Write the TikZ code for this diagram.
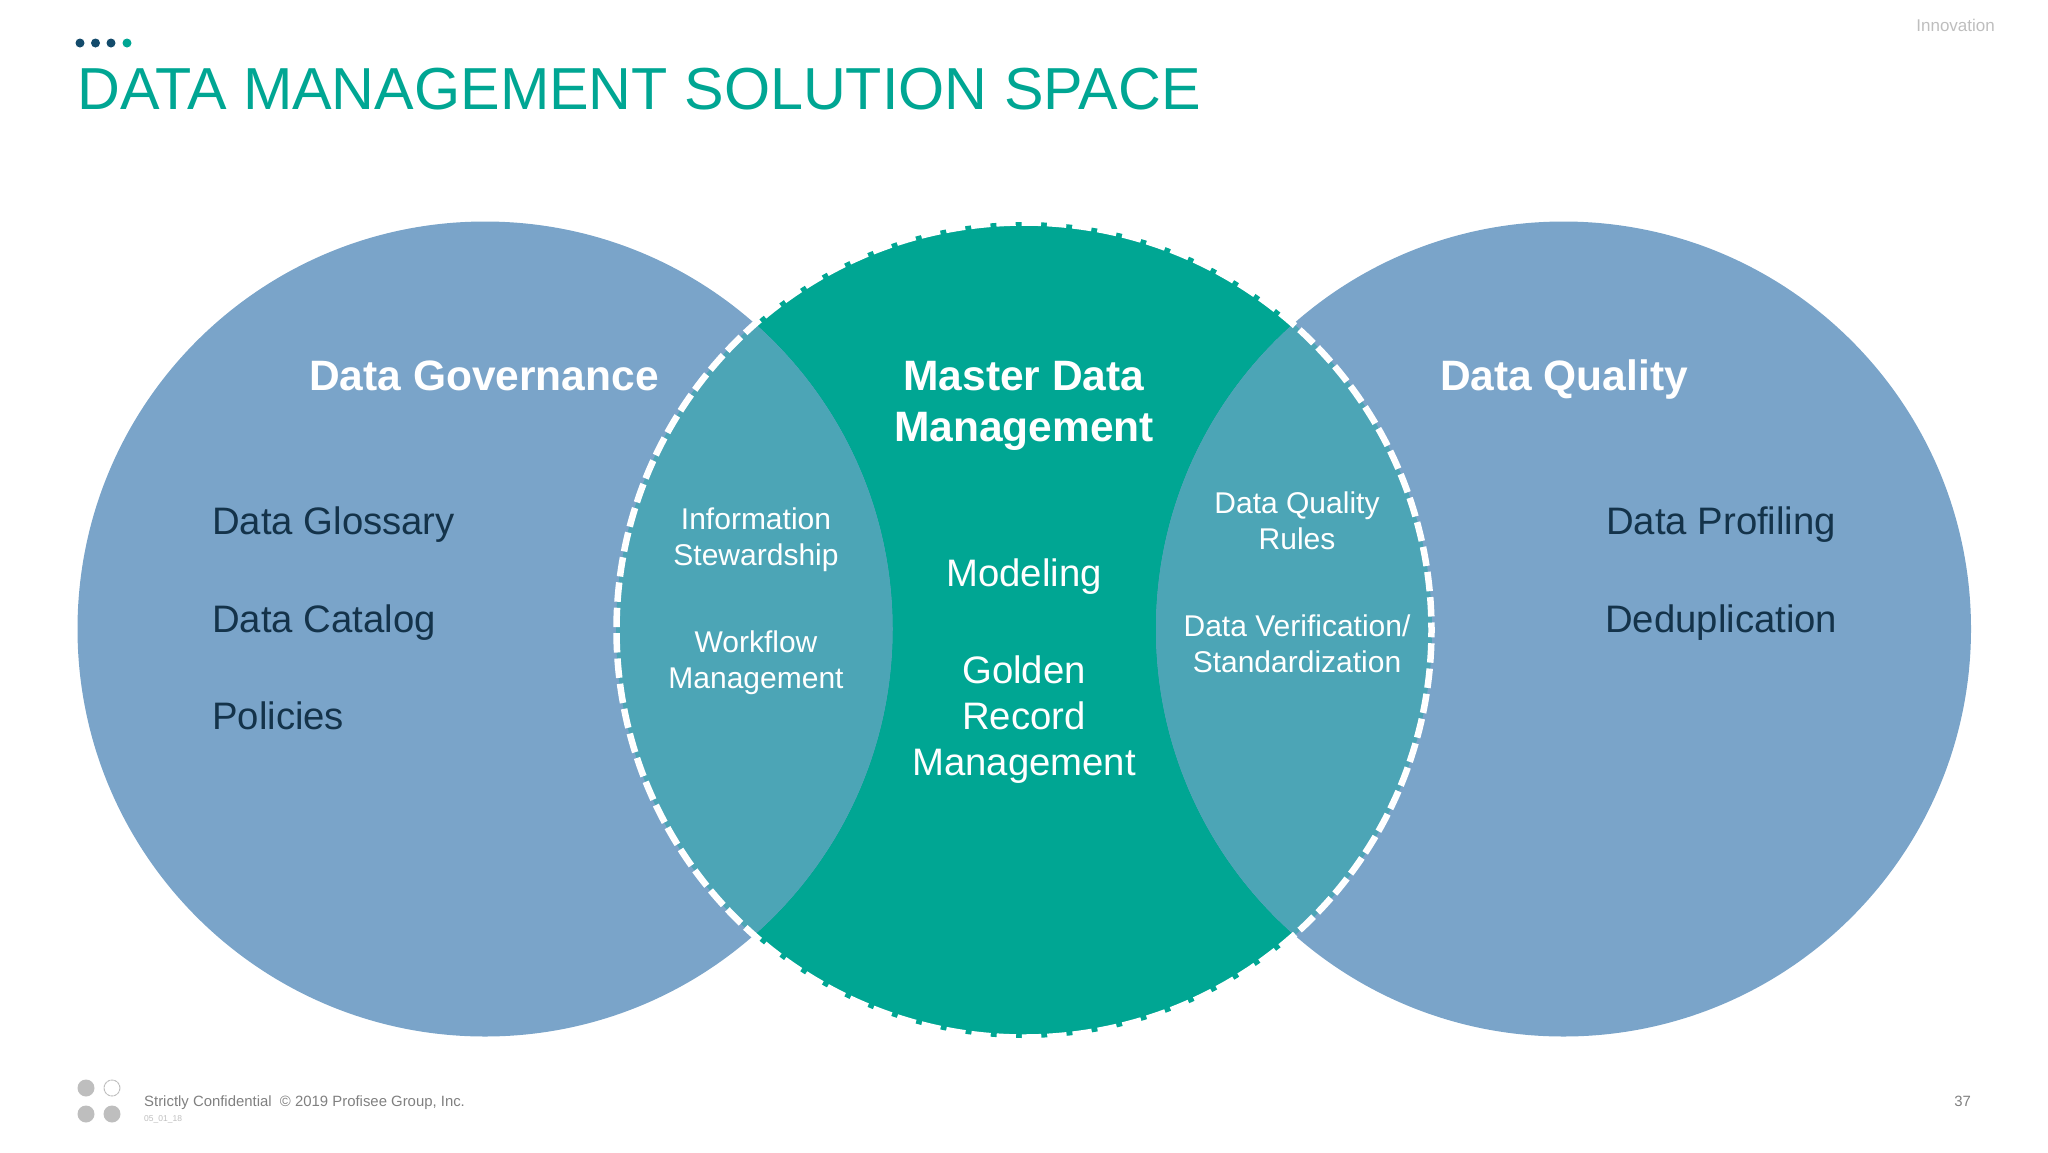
\documentclass[tikz,border=0pt]{standalone}
\usepackage{fontspec}
\usepackage{xcolor}
\setmainfont{Liberation Sans}
\definecolor{teal}{HTML}{00A693}
\definecolor{steel}{HTML}{7AA4C9}
\definecolor{mixed}{HTML}{4CA5B6}
\definecolor{navy}{HTML}{14334A}
\definecolor{dotnavy}{HTML}{134B6B}
\definecolor{footgray}{HTML}{BEBEBE}

\begin{document}
\begin{tikzpicture}[x=1pt, y=-1pt,
    every node/.style={inner sep=0pt},
    bubble/.style={circle, minimum size=815pt},
    heading/.style={align=center, text=white, font=\fontsize{42.5}{51}\selectfont\bfseries},
    topic/.style={anchor=base west, text=navy, font=\fontsize{38.3}{46}\selectfont},
    core/.style={align=center, text=white, font=\fontsize{38.3}{46}\selectfont},
    shared/.style={align=center, text=white, font=\fontsize{30}{36}\selectfont},
    marker/.style={circle, minimum size=9pt},
    logodot/.style={circle, minimum size=17pt, fill=footgray}]
    \useasboundingbox (0,0) rectangle (2048,1152);

    % circles
    \node[bubble, fill=teal, minimum size=816pt] (M) at (1024,630) {};
    \node[bubble, fill=steel] (L) at (485,629) {};
    \node[bubble, fill=steel] (R) at (1563.5,629) {};
    \begin{scope}
        \clip (1024,630) circle (408);
        \node[bubble, fill=mixed] (LM) at (485,629) {};
        \node[bubble, fill=mixed] (RM) at (1563.5,629) {};
    \end{scope}
    \node[bubble, minimum size=815pt, draw=white, line width=6.5pt, dash pattern=on 19.4pt off 6pt, dash phase=11.9pt] (Mring) at (1024,630) {};

    % title
    \node[marker, fill=dotnavy] (d1) at (80,43) {};
    \node[marker, fill=dotnavy] (d2) at (95.5,43) {};
    \node[marker, fill=dotnavy] (d3) at (111,43) {};
    \node[marker, fill=teal] (d4) at (127,43) {};
    \node[anchor=base west, text=teal, font=\fontsize{59.3}{70}\selectfont] (title) at (77,109) {DATA MANAGEMENT SOLUTION SPACE};
    \node[anchor=east, text=footgray, font=\fontsize{17}{20}\selectfont] (tag) at (1995,25) {Innovation};

    % headings
    \node[heading] (gov) at (484,376) {Data Governance};
    \node[heading] (mdm) at (1024,406) {Master Data\\Management};
    \node[heading] (dq) at (1564,380) {Data Quality};

    % left circle
    \node[topic] (glossary) at (212,534.5) {Data Glossary};
    \node[topic] (catalog) at (212,632) {Data Catalog};
    \node[topic] (policies) at (212,729) {Policies};

    % right circle
    \node[topic] (profiling) at (1606,534.5) {Data Profiling};
    \node[topic] (dedup) at (1605,632) {Deduplication};

    % middle
    \node[core] (modeling) at (1024,577) {Modeling};
    \node[core] (golden) at (1024,720) {Golden\\Record\\Management};

    % overlaps
    \node[shared] (steward) at (756,539.5) {Information\\Stewardship};
    \node[shared] (workflow) at (756,662.5) {Workflow\\Management};
    \node[shared] (rules) at (1297,521) {Data Quality\\Rules};
    \node[shared] (verify) at (1297,644) {Data Verification/\\Standardization};

    % footer
    \node[logodot] (f1) at (86,1088) {};
    \node[circle, minimum size=16pt, draw=footgray, line width=1pt, dash pattern=on 3pt off 0.6pt] (f2) at (112,1088) {};
    \node[logodot] (f3) at (86,1114) {};
    \node[logodot] (f4) at (112,1114) {};
    \node[anchor=west, text=black!50, font=\fontsize{14.9}{18}\selectfont] (legal) at (144,1102.5) {Strictly Confidential\ \ © 2019 Profisee Group, Inc.};
    \node[anchor=west, text=footgray, font=\fontsize{8.5}{10}\selectfont] (stamp) at (144,1119) {05\_01\_18};
    \node[anchor=east, text=black!50, font=\fontsize{14.9}{18}\selectfont] (page) at (1971,1101) {37};
\end{tikzpicture}
\end{document}
